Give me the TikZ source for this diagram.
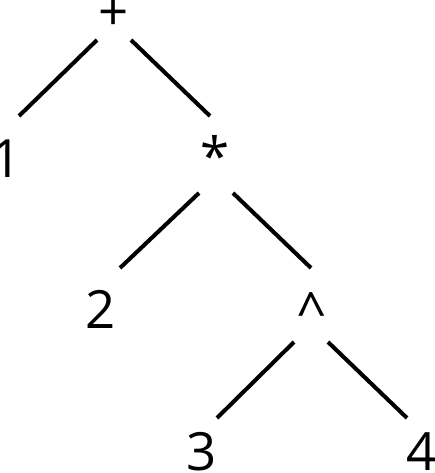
\documentclass[tikz,border=0pt]{standalone}
\usepackage{fontspec}
\setmainfont{Open Sans}
\usepackage{tikz}
\usetikzlibrary{%
  arrows.meta%
}
\tikzset{
  sym/.style={inner sep=0pt, font=\fontsize{30}{36}\selectfont},
  edge/.style={line width=2.3pt, line cap=butt}
}

\begin{document}
\begin{tikzpicture}
        \useasboundingbox (0,0) rectangle (8.7,9.46);
        \node [sym] (plus)  at (2.28,9.16) {+};
        \node [sym] (one)   at (0.14,6.28) {1};
        \node [sym] (star)  at (4.30,6.36) {*};
        \node [sym] (two)   at (2.02,3.28) {2};
        \node [sym] (caret) at (6.24,3.22) {\textasciicircum};
        \node [sym] (three) at (4.04,0.42) {3};
        \node [sym] (four)  at (8.44,0.42) {4};
        \begin{scope}[edge]
          \draw ([shift={(-0.34,-0.5)}]plus.center) -- ([shift={(0.24,0.86)}]one.center);
          \draw ([shift={(0.34,-0.5)}]plus.center) -- ([shift={(-0.1,0.78)}]star.center);
          \draw ([shift={(-0.32,-0.76)}]star.center) -- ([shift={(0.38,0.82)}]two.center);
          \draw ([shift={(0.36,-0.76)}]star.center) -- ([shift={(-0.02,0.88)}]caret.center);
          \draw ([shift={(-0.36,-0.6)}]caret.center) -- ([shift={(0.3,0.68)}]three.center);
          \draw ([shift={(0.32,-0.6)}]caret.center) -- ([shift={(-0.3,0.68)}]four.center);
        \end{scope}
      \end{tikzpicture}
\end{document}
